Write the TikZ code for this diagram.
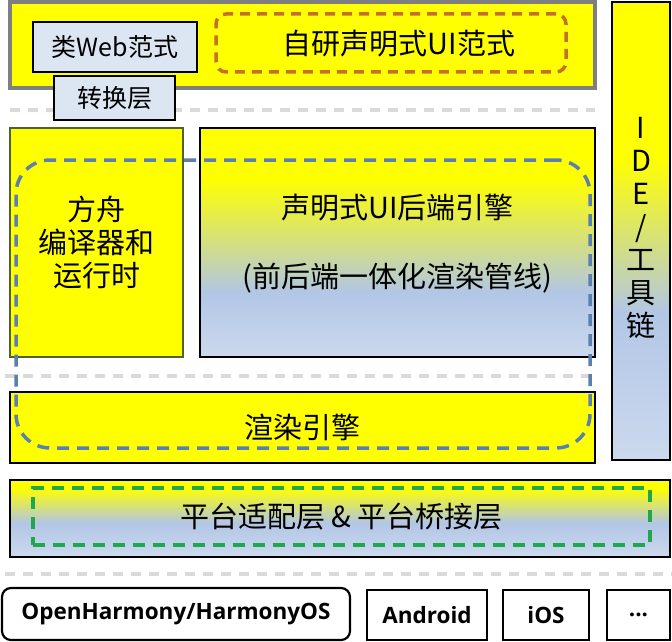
\documentclass[tikz,border=0pt]{standalone}
\usepackage{fontspec}
\setmainfont{Noto Sans CJK SC}
\newfontfamily\latinbold{Open Sans}
\definecolor{yel}{HTML}{FFFF00}
\definecolor{mb}{HTML}{B2C6E6}
\definecolor{lb}{HTML}{CCD9EE}
\definecolor{boxblue}{HTML}{DCE6F2}
\definecolor{framegray}{HTML}{7F7F7F}
\definecolor{sepgray}{HTML}{DADADA}
\definecolor{orangedash}{HTML}{C4702C}
\definecolor{bluedash}{HTML}{5A80B0}
\definecolor{greendash}{HTML}{1FA84B}
\definecolor{olive}{HTML}{4F6228}
\pgfdeclareverticalshading{engshade}{100bp}{color(0bp)=(lb); color(25bp)=(lb); color(39bp)=(mb); color(64bp)=(yel); color(75bp)=(yel); color(100bp)=(yel)}
\pgfdeclareverticalshading{ideshade}{100bp}{color(0bp)=(lb); color(25bp)=(lb); color(41bp)=(mb); color(58bp)=(yel); color(75bp)=(yel); color(100bp)=(yel)}
\pgfdeclareverticalshading{platshade}{100bp}{color(0bp)=(lb); color(25bp)=(lb); color(47bp)=(mb); color(70bp)=(yel); color(75bp)=(yel); color(100bp)=(yel)}
\tikzset{
  blk/.style={draw=black, line width=2.2pt, inner sep=0pt, align=center},
  ybox/.style={blk, fill=yel},
  bbox/.style={blk, fill=boxblue},
  sepline/.style={draw=sepgray, line width=3.5pt, dash pattern=on 10pt off 8pt},
  cjk/.style={font=\fontsize{29}{33}\selectfont},
  cjks/.style={font=\fontsize{25}{28}\selectfont},
  osbox/.style={blk, fill=white, font=\latinbold\bfseries\fontsize{22.5}{26}\selectfont},
}
\begin{document}
\begin{tikzpicture}[x=1pt, y=-1pt]
\useasboundingbox (0,0) rectangle (672,642);
% separators
\coordinate (s1a) at (10,110); \coordinate (s1b) at (595,110);
\coordinate (s2a) at (5,376); \coordinate (s2b) at (595,376);
\coordinate (s3a) at (5,574); \coordinate (s3b) at (672,574);
\draw[sepline] (s1a) -- (s1b);
\draw[sepline] (s2a) -- (s2b);
\draw[sepline] (s3a) -- (s3b);
% top layer
\node[blk, draw=framegray, line width=4pt, fill=yel, minimum width=585pt, minimum height=86pt] (top) at (302.5,45) {};
\node[bbox, cjks, minimum width=164pt, minimum height=50pt] (web) at (115,47) {类Web范式};
\node[draw=orangedash, line width=3.5pt, dash pattern=on 10pt off 7pt, rounded corners=10pt, inner sep=0pt, minimum width=350pt, minimum height=58pt] (zy) at (391,43) {};
\node[cjk, inner sep=0pt] (zyt) at (399,44) {自研声明式UI范式};
\node[bbox, cjks, minimum width=121pt, minimum height=44pt] (zh) at (114.5,98) {转换层};
% IDE column
\node[blk, shading=ideshade, minimum width=58pt, minimum height=458pt] (ide) at (641,231) {};
\node[cjk, align=center, inner sep=0pt] (idet) at (641,228) {I\\D\\E\\/\\工\\具\\链};
% middle
\node[ybox, draw=olive, minimum width=173pt, minimum height=229pt, cjk] (fz) at (96.5,242.5) {方舟\\编译器和\\运行时};
\node[blk, shading=engshade, minimum width=395pt, minimum height=229pt] (eng) at (397.5,242.5) {};
\node[cjk, inner sep=0pt] (engt1) at (397.5,208) {声明式UI后端引擎};
\node[cjk, inner sep=0pt] (engt2) at (397.5,278) {(前后端一体化渲染管线)};
\node[ybox, minimum width=585pt, minimum height=71pt, cjk] (rend) at (302.5,427.5) {渲染引擎};
\node[draw=bluedash, line width=3.5pt, dash pattern=on 12pt off 8pt, rounded corners=34pt, inner sep=0pt, minimum width=574pt, minimum height=288pt] (loop) at (303,304) {};
% platform
\node[blk, shading=platshade, minimum width=660pt, minimum height=77pt] (plat) at (340,518.5) {};
\node[draw=greendash, line width=4pt, dash pattern=on 12pt off 8pt, inner sep=0pt, minimum width=617pt, minimum height=57pt, cjk] (pb) at (341.5,516.5) {平台适配层 \& 平台桥接层};
% OS row
\node[osbox, rounded corners=9pt, minimum width=348pt, minimum height=52pt] (oh) at (176,614) {OpenHarmony/HarmonyOS};
\node[osbox, minimum width=120pt, minimum height=50pt] (and) at (427,615) {Android};
\node[osbox, minimum width=86pt, minimum height=50pt] (ios) at (546,615) {iOS};
\node[osbox, minimum width=63pt, minimum height=50pt] (more) at (638.5,615) {...};
\end{tikzpicture}
\end{document}
